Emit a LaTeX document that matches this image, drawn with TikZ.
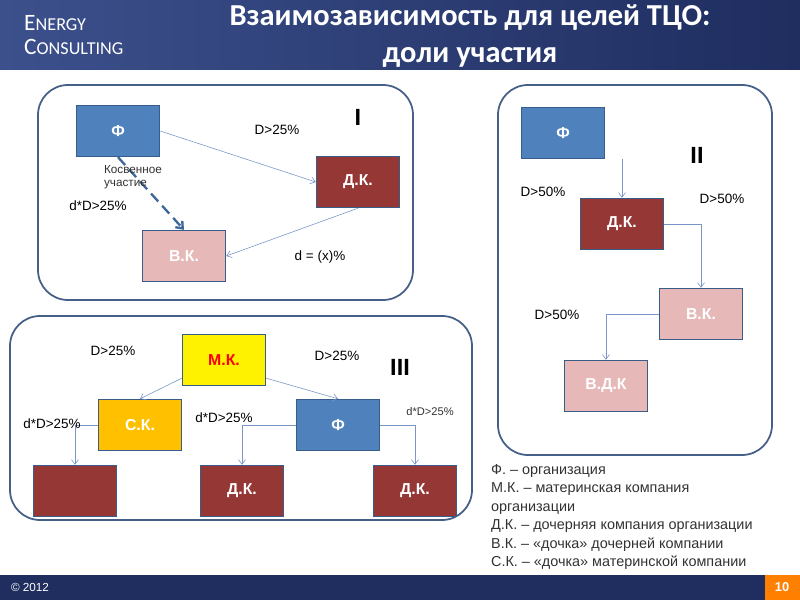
\documentclass[tikz,border=0pt]{standalone}
\usepackage{fontspec}
\setmainfont{Liberation Sans}
\newfontfamily\titlefont{Carlito}
\usetikzlibrary{positioning,arrows.meta}
\definecolor{navy}{RGB}{31,45,95}
\definecolor{navyl}{RGB}{60,80,140}
\definecolor{frame}{RGB}{70,95,135}
\definecolor{fblue}{RGB}{79,129,189}
\definecolor{fbord}{RGB}{56,93,138}
\definecolor{dkred}{RGB}{149,55,53}
\definecolor{pinkb}{RGB}{230,185,184}
\definecolor{orng}{RGB}{255,192,0}
\definecolor{ltline}{RGB}{120,150,200}
\definecolor{txt}{RGB}{50,50,50}
\tikzset{
  box/.style={draw=fbord,line width=1.2pt,minimum width=2.49cm,minimum height=1.53cm,font=\bfseries\fontsize{13.5}{15}\selectfont,text=white},
  panel/.style={draw=frame,line width=1.5pt,rounded corners=0.9cm},
  link/.style={draw=ltline,line width=0.5pt,-{Straight Barb[length=4pt,width=6pt]}},
  lbl/.style={font=\fontsize{11.5}{13}\selectfont,text=black},
  roman/.style={font=\bfseries\fontsize{20}{22}\selectfont},
  logotext/.style={text=white,font=\titlefont\fontsize{20}{20}\selectfont,inner sep=0pt,anchor=west}
}
\newcommand{\smc}[1]{{\fontsize{15.5}{15.5}\selectfont #1}}
\begin{document}
\begin{tikzpicture}[x=0.03cm,y=-0.03cm]
		\useasboundingbox (0,0) rectangle (800,600);
		%%header
		\shade[left color=navyl,right color=navy] (0,0) rectangle (800,70);
		\node[logotext] (logo1) at (24,23) {E\smc{NERGY}};
		\node[logotext] (logo2) at (24,47) {C\smc{ONSULTING}};
		\node[text=white,font=\titlefont\bfseries\fontsize{26}{29}\selectfont,align=center] (title) at (470,36) {Взаимозависимость для целей ТЦО:\\[2pt]доли участия};
		%%footer
		\fill[navy] (0,575) rectangle (800,600);
		\fill[orange] (765,575) rectangle (800,600);
		\node[text=white,font=\fontsize{10}{12}\selectfont] (copy) at (30,587) {\copyright\ 2012};
		\node[text=white,font=\bfseries\fontsize{11}{12}\selectfont] (page) at (782,587) {10};
		%%panels
		\draw[panel] (38,85) rectangle (413,300);
		\draw[panel] (498,85) rectangle (772,455);
		\draw[panel] (10,316) rectangle (472,520);
		%%panel I
		\node[box,fill=fblue] (f1) at (118,131) {Ф};
		\node[box,fill=dkred] (dk1) at (358,182) {Д.К.};
		\node[box,fill=pinkb] (vk1) at (184,256) {В.К.};
		\draw[link] (f1.east) -- (dk1.west);
		\draw[link] (dk1.south) -- (vk1.east);
		\draw[fblue!80!black,line width=2pt,dash pattern=on 9pt off 5pt,-{Straight Barb[length=5pt,width=8pt]}] (f1.south) -- (vk1.north);
		\node[lbl] (l1) at (277,130) {D>25\%};
		\node[font=\fontsize{10}{11}\selectfont,text=txt,align=left,anchor=west] (l2) at (100,177) {Косвенное\\участие};
		\node[lbl] (l3) at (98,206) {d*D>25\%};
		\node[lbl] (l4) at (320,257) {d = (x)\%};
		\node[roman] (r1) at (358,117) {I};
		%%panel II
		\node[box,fill=fblue] (f2) at (563,133) {Ф};
		\node[box,fill=dkred] (dk2) at (622,224) {Д.К.};
		\node[box,fill=pinkb] (vk2) at (701,314) {В.К.};
		\node[box,fill=pinkb] (vdk) at (606,386) {В.Д.К};
		\draw[link] (f2.south -| dk2.north) -- (dk2.north);
		\draw[link] (dk2.east) -| (vk2.north);
		\draw[link] (vk2.west) -| (vdk.north);
		\node[lbl] (l5) at (543,192) {D>50\%};
		\node[lbl] (l6) at (722,199) {D>50\%};
		\node[lbl] (l7) at (557,315) {D>50\%};
		\node[roman] (r2) at (697,155) {II};
		%%panel III
		\node[box,fill=yellow,text=red] (mk) at (224,360) {М.К.};
		\node[box,fill=orng] (sk) at (140,425) {С.К.};
		\node[box,fill=fblue] (f3) at (338,425) {Ф};
		\node[box,fill=dkred] (b1) at (75,491) {};
		\node[box,fill=dkred] (dk3) at (242,491) {Д.К.};
		\node[box,fill=dkred] (dk4) at (415,491) {Д.К.};
		\draw[link] (mk.south west) ++(0,-8) -- (sk.north);
		\draw[link] (mk.south east) ++(0,-8) -- (f3.north);
		\draw[link] (sk.west) -| (b1.north);
		\draw[link] (f3.west) -| (dk3.north);
		\draw[link] (f3.east) -| (dk4.north);
		\node[lbl] (l8) at (113,351) {D>25\%};
		\node[lbl] (l9) at (337,356) {D>25\%};
		\node[roman] (r3) at (400,367) {III};
		\node[lbl] (l10) at (52,424) {d*D>25\%};
		\node[lbl] (l11) at (224,418) {d*D>25\%};
		\node[font=\fontsize{9.5}{11}\selectfont,text=txt] (l12) at (430,412) {d*D>25\%};
		%%legend
		\node[anchor=north west,align=left,text=txt,font=\fontsize{12.3}{15.8}\selectfont] (legend) at (487,460) {Ф. -- организация\\М.К. -- материнская компания\\организации\\Д.К. -- дочерняя компания организации\\В.К. -- «дочка» дочерней компании\\С.К. -- «дочка» материнской компании};
	\end{tikzpicture}
\end{document}
